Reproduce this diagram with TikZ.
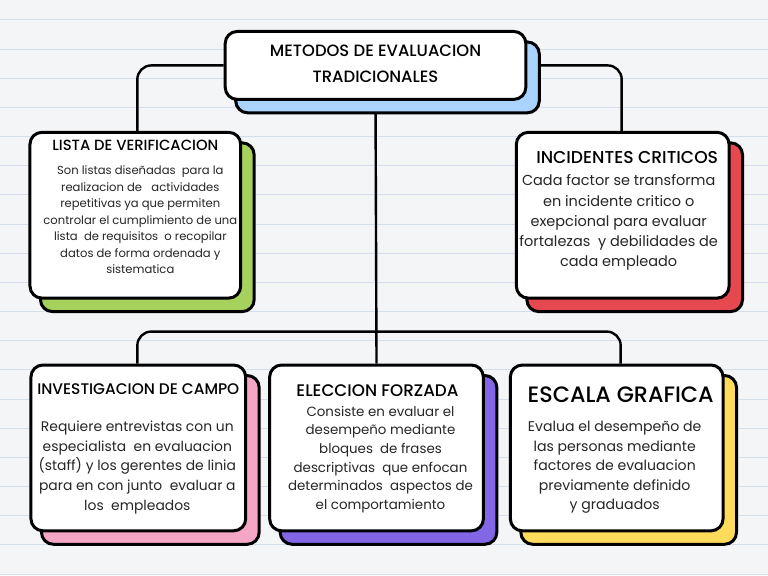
\documentclass[tikz,border=0pt]{standalone}
\usepackage{fontspec}
\setmainfont{Poppins}
\newfontfamily\ttlfont{Poppins Medium}
\usetikzlibrary{calc}
\pgfdeclarelayer{bg}
\pgfdeclarelayer{shd}
\pgfsetlayers{bg,shd,main}
\definecolor{paper}{HTML}{F4F5F7}
\definecolor{ruleblue}{HTML}{D3DDEB}
\definecolor{shblue}{HTML}{AAD3FF}
\definecolor{shgreen}{HTML}{A6D15C}
\definecolor{shred}{HTML}{E5484F}
\definecolor{shpink}{HTML}{F5A6C5}
\definecolor{shpurple}{HTML}{8366E6}
\definecolor{shyellow}{HTML}{FFDB5C}
\tikzset{
  card/.style={draw=black, line width=3pt, fill=white, rounded corners=12pt, inner sep=0pt},
  shadowbox/.style={draw=black, line width=3pt, rounded corners=12pt},
  link/.style={draw=black, line width=2.4pt, rounded corners=14pt},
  ttl/.style={align=center, inner sep=0pt, text=black},
  body/.style={align=center, inner sep=0pt, text=black!85},
}
\newcommand{\cardshadow}[2]{%
  \begin{pgfonlayer}{shd}
    \draw[shadowbox, fill=#2] ($(#1.north west)+(12,12)$) rectangle ($(#1.south east)+(12,12)$);
  \end{pgfonlayer}}
\begin{document}
\begin{tikzpicture}[x=1pt,y=-1pt]
\begin{pgfonlayer}{bg}
\fill[paper] (0,0) rectangle (768,576);
\foreach \i in {0,...,19} \draw[ruleblue, line width=1pt] (0,20+29.2*\i) -- (768,20+29.2*\i);
\end{pgfonlayer}
\useasboundingbox (0,0) rectangle (768,576);

% cards
\node[card, minimum width=301pt, minimum height=68pt] (top) at (375.5,65.5) {};
\node[card, minimum width=211pt, minimum height=166pt] (lista) at (135,215.5) {};
\node[card, minimum width=213pt, minimum height=166pt] (incid) at (623,215.5) {};
\node[card, minimum width=215pt, minimum height=166pt] (invest) at (138,448.5) {};
\node[card, minimum width=214pt, minimum height=166pt] (elecc) at (376.5,448.5) {};
\node[card, minimum width=213pt, minimum height=166pt] (escala) at (617,448.5) {};

\cardshadow{top}{shblue}
\cardshadow{lista}{shgreen}
\cardshadow{incid}{shred}
\cardshadow{invest}{shpink}
\cardshadow{elecc}{shpurple}
\cardshadow{escala}{shyellow}

% connectors
\coordinate (bus) at (376.5,332);
\begin{pgfonlayer}{bg}
  \draw[link] (top.west) -| ([xshift=2pt]lista.north);
  \draw[link] (top.east) -| ([xshift=-1pt]incid.north);
  \draw[link] (top.south) -- (elecc.north);
  \draw[link] ([xshift=-1pt]invest.north) |- (bus) -| ([xshift=4pt]escala.north);
\end{pgfonlayer}

% titles
\node[ttl, font=\ttlfont\fontsize{16.4}{25.7}\selectfont] (ttop) at (375.5,64) {METODOS DE EVALUACION\\TRADICIONALES};
\node[ttl, font=\ttlfont\fontsize{14.8}{17}\selectfont] (tlista) at (135,146) {LISTA DE VERIFICACION};
\node[ttl, font=\ttlfont\fontsize{17.2}{20}\selectfont] (tincid) at (627.5,158) {INCIDENTES CRITICOS};
\node[ttl, font=\ttlfont\fontsize{15.4}{18}\selectfont] (tinvest) at (138,390) {INVESTIGACION DE CAMPO};
\node[ttl, font=\ttlfont\fontsize{16.8}{19}\selectfont] (telecc) at (377.5,391) {ELECCION FORZADA};
\node[ttl, font=\ttlfont\fontsize{22.3}{25}\selectfont] (tescala) at (621,395) {ESCALA GRAFICA};

% bodies
\node[body, font=\fontsize{11.6}{16.5}\selectfont] (blista) at (140,220) {Son listas diseñadas\ \ para la\\realizacion de\ \ \ actividades\\repetitivas ya que permiten\\controlar el cumplimiento de una\\lista\ \ de requisitos\ \ o recopilar\\datos de forma ordenada y\\sistematica};
\node[body, font=\fontsize{14.5}{20.3}\selectfont] (bincid) at (619,223) {Cada factor se transforma\\en incidente critico o\\exepcional para evaluar\\fortalezas\ \ y debilidades de\\cada empleado};
\node[body, font=\fontsize{13.9}{19.7}\selectfont] (binvest) at (137,468) {Requiere entrevistas con un\\especialista\ \ en evaluacion\\(staff) y los gerentes de linia\\para en con junto\ \ evaluar a\\los\ \ empleados};
\node[body, font=\fontsize{13.4}{18.6}\selectfont] (belecc) at (380.5,460) {Consiste en evaluar el\\desempeño mediante\\bloques\ \ de frases\\descriptivas\ \ que enfocan\\determinados\ \ aspectos de\\el comportamiento};
\node[body, font=\fontsize{14.1}{19.6}\selectfont] (bescala) at (615,468) {Evalua el desempeño de\\las personas mediante\\factores de evaluacion\\previamente definido\\y graduados};
\end{tikzpicture}
\end{document}
